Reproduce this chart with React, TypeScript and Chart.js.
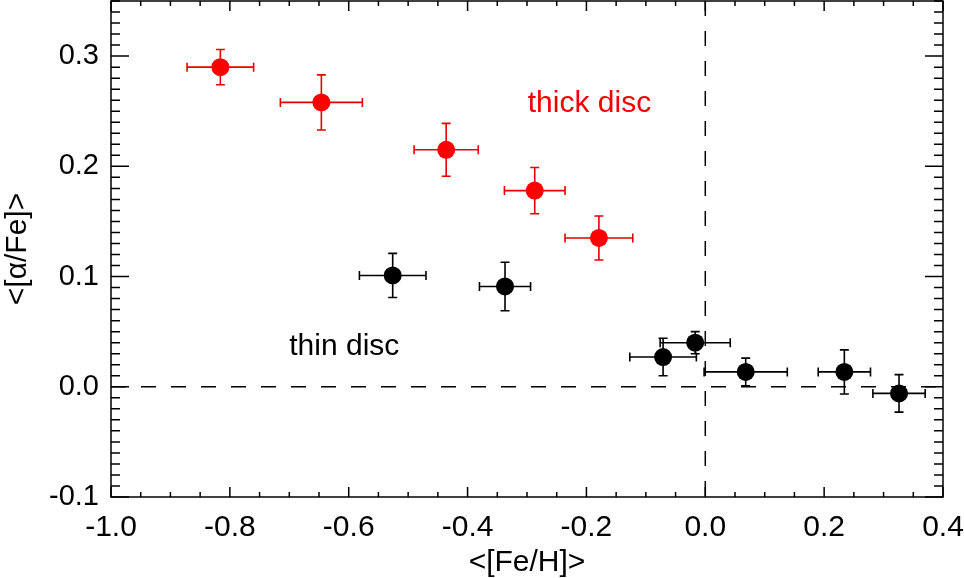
import React, { useEffect, useRef } from 'react';
import { Chart, registerables } from 'chart.js';

Chart.register(...registerables);

// Thick disc (red)
const thickFeH = [-0.816, -0.646, -0.436, -0.287, -0.179];
const thickAlpha = [0.290, 0.258, 0.215, 0.178, 0.135];
const thickFeHErr = [0.056, 0.069, 0.054, 0.051, 0.057];
const thickAlphaErr = [0.016, 0.025, 0.024, 0.021, 0.020];

// Thin disc (black)
const thinFeH = [-0.526, -0.337, -0.071, -0.017, 0.068, 0.234, 0.326];
const thinAlpha = [0.101, 0.091, 0.027, 0.040, 0.0135, 0.0135, -0.006];
const thinFeHErr = [0.056, 0.043, 0.056, 0.059, 0.070, 0.044, 0.044];
const thinAlphaErr = [0.020, 0.022, 0.017, 0.010, 0.0125, 0.020, 0.017];

const xTicks = [-1.0, -0.8, -0.6, -0.4, -0.2, 0.0, 0.2, 0.4];
const yTicks = [-0.1, 0.0, 0.1, 0.2, 0.3];
const xRange = [-1.0, 0.4];
const yRange = [-0.1, 0.35];
const xMinorStep = 0.05;
const yMinorStep = 0.01;

const labelTexts = ['thick disc', 'thin disc'];
const labelX = [-0.2987, -0.700];
const labelY = [0.249, 0.0292];
const labelColors = ['#f00000', '#000000'];

const RED = '#ff0000';
const RED_BAR = '#e60000';
const BLACK = '#000000';

const series = [
  { x: thickFeH, y: thickAlpha, xe: thickFeHErr, ye: thickAlphaErr, color: RED, bar: RED_BAR },
  { x: thinFeH, y: thinAlpha, xe: thinFeHErr, ye: thinAlphaErr, color: BLACK, bar: BLACK },
];

const FONT = '"Liberation Sans", Arial, Helvetica, sans-serif';
const PLOT_TOP = 1;

const overlay = {
  id: 'overlay',
  afterLayout(chart: any) {
    const a = chart.chartArea;
    a.top = PLOT_TOP;
    a.height = a.bottom - a.top;
    const ys = chart.scales.y;
    ys.top = PLOT_TOP;
    ys.height = ys.bottom - ys.top;
    ys.configure();
  },
  beforeDatasetsDraw(chart: any) {
    const { ctx, chartArea: a, scales } = chart;
    const xs = scales.x;
    const ys = scales.y;
    ctx.save();
    ctx.strokeStyle = '#000';
    ctx.lineWidth = 1.5;
    ctx.setLineDash([15, 15]);
    const y0 = ys.getPixelForValue(0);
    ctx.beginPath();
    ctx.moveTo(a.left, y0);
    ctx.lineTo(a.right, y0);
    ctx.stroke();
    const x0 = xs.getPixelForValue(0);
    ctx.beginPath();
    ctx.moveTo(x0, a.top);
    ctx.lineTo(x0, a.bottom);
    ctx.stroke();
    ctx.setLineDash([]);
    const cap = 4.5;
    series.forEach((s) => {
      ctx.strokeStyle = s.bar;
      ctx.lineWidth = 1.6;
      s.x.forEach((xv, i) => {
        const px = xs.getPixelForValue(xv);
        const py = ys.getPixelForValue(s.y[i]);
        const xl = xs.getPixelForValue(xv - s.xe[i]);
        const xr = xs.getPixelForValue(xv + s.xe[i]);
        const yt = ys.getPixelForValue(s.y[i] + s.ye[i]);
        const yb = ys.getPixelForValue(s.y[i] - s.ye[i]);
        ctx.beginPath();
        ctx.moveTo(xl, py); ctx.lineTo(xr, py);
        ctx.moveTo(xl, py - cap); ctx.lineTo(xl, py + cap);
        ctx.moveTo(xr, py - cap); ctx.lineTo(xr, py + cap);
        ctx.moveTo(px, yt); ctx.lineTo(px, yb);
        ctx.moveTo(px - cap, yt); ctx.lineTo(px + cap, yt);
        ctx.moveTo(px - cap, yb); ctx.lineTo(px + cap, yb);
        ctx.stroke();
      });
    });
    ctx.restore();
  },
  afterDatasetsDraw(chart: any) {
    const { ctx, scales } = chart;
    ctx.save();
    ctx.font = `30px ${FONT}`;
    ctx.textAlign = 'left';
    ctx.textBaseline = 'alphabetic';
    labelTexts.forEach((t, i) => {
      ctx.fillStyle = labelColors[i];
      ctx.fillText(t, scales.x.getPixelForValue(labelX[i]), scales.y.getPixelForValue(labelY[i]));
    });
    ctx.restore();
  },
  afterDraw(chart: any) {
    const { ctx, chartArea: a, scales } = chart;
    const xs = scales.x;
    const ys = scales.y;
    ctx.save();
    ctx.strokeStyle = '#000';
    ctx.lineWidth = 1.5;
    ctx.strokeRect(a.left, a.top, a.right - a.left, a.bottom - a.top);
    ctx.beginPath();
    const nx = Math.round((xRange[1] - xRange[0]) / xMinorStep);
    for (let k = 0; k <= nx; k++) {
      const v = xRange[0] + k * xMinorStep;
      const major = k % 4 === 0;
      const len = major ? 10 : 5;
      const px = xs.getPixelForValue(v);
      ctx.moveTo(px, a.bottom); ctx.lineTo(px, a.bottom - len);
      ctx.moveTo(px, a.top); ctx.lineTo(px, a.top + len);
    }
    const ny = Math.round((yRange[1] - yRange[0]) / yMinorStep);
    for (let k = 0; k <= ny; k++) {
      const v = yRange[0] + k * yMinorStep;
      const major = k % 10 === 0;
      const len = major ? 18 : 9;
      const py = ys.getPixelForValue(v);
      ctx.moveTo(a.left, py); ctx.lineTo(a.left + len, py);
      ctx.moveTo(a.right, py); ctx.lineTo(a.right - len, py);
    }
    ctx.stroke();
    ctx.restore();
  },
};

export default function App() {
  const ref = useRef<HTMLCanvasElement>(null);
  useEffect(() => {
    if (!ref.current) return;
    const chart = new Chart(ref.current, {
      type: 'scatter',
      data: {
        datasets: series.map((s) => ({
          data: s.x.map((xv, i) => ({ x: xv, y: s.y[i] })),
          backgroundColor: s.color,
          borderColor: s.color,
          pointRadius: 9,
          pointHoverRadius: 9,
          borderWidth: 0,
        })),
      },
      options: {
        responsive: false,
        animation: false,
        devicePixelRatio: 1,
        layout: { padding: { top: 1, right: 21, left: 0, bottom: 0 } },
        plugins: { legend: { display: false }, tooltip: { enabled: false } },
        scales: {
          x: {
            type: 'linear',
            min: xRange[0],
            max: xRange[1],
            grid: { display: false, drawTicks: false },
            border: { display: false },
            afterBuildTicks: (sc: any) => { sc.ticks = xTicks.map((v) => ({ value: v })); },
            afterFit: (sc: any) => {
              sc.height = 81;
              sc.paddingLeft = 0; sc.paddingRight = 0; sc.paddingTop = 0; sc.paddingBottom = 0;
            },
            ticks: {
              color: '#000',
              font: { family: FONT, size: 30 },
              padding: 13,
              maxRotation: 0,
              autoSkip: false,
              callback: (v: any) => Number(v).toFixed(1),
            },
            title: {
              display: true,
              text: '<[Fe/H]>',
              color: '#000',
              font: { family: FONT, size: 30, lineHeight: 1 },
              padding: 0,
            },
          },
          y: {
            type: 'linear',
            min: yRange[0],
            max: yRange[1],
            grid: { display: false, drawTicks: false },
            border: { display: false },
            afterBuildTicks: (sc: any) => { sc.ticks = yTicks.map((v) => ({ value: v })); },
            afterFit: (sc: any) => {
              sc.width = 111;
              sc.paddingLeft = 0; sc.paddingRight = 0; sc.paddingTop = 0; sc.paddingBottom = 0;
            },
            ticks: {
              color: '#000',
              font: { family: FONT, size: 29 },
              padding: 12,
              autoSkip: false,
              callback: (v: any) => Number(v).toFixed(1),
            },
            title: {
              display: true,
              text: '<[α/Fe]>',
              color: '#000',
              font: { family: FONT, size: 30, lineHeight: 1.2 },
              padding: 0,
            },
          },
        },
      },
      plugins: [overlay],
    } as any);
    return () => chart.destroy();
  }, []);
  return (
    <div style={{ position: 'fixed', left: 0, top: 0, width: 964, height: 578, background: '#fff' }}>
      <canvas ref={ref} width={964} height={578} />
    </div>
  );
}
